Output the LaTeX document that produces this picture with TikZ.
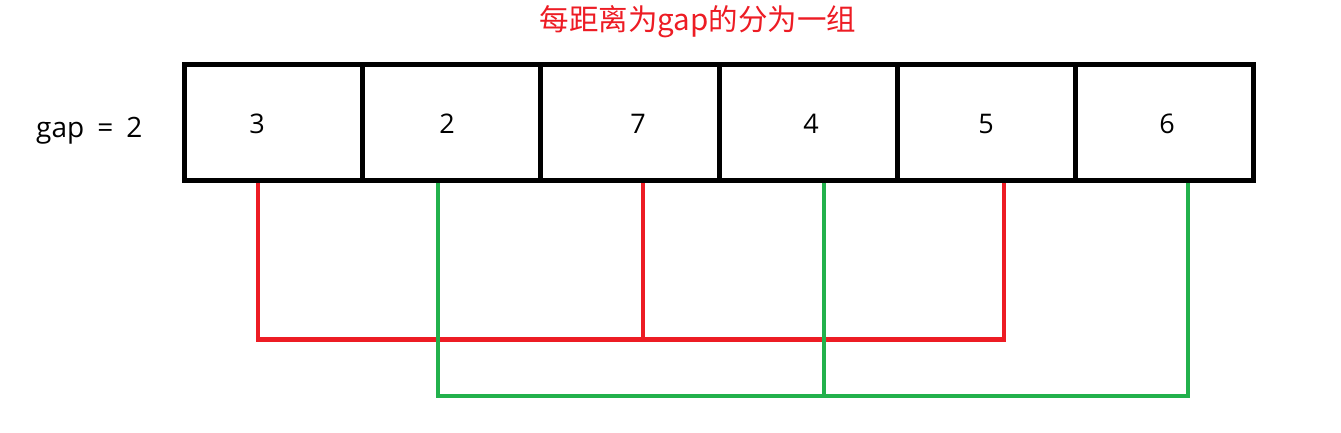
\documentclass[tikz,border=0pt]{standalone}
\usepackage{fontspec}
\setmainfont{Open Sans}
\newfontfamily\cjk{Noto Sans CJK SC}
\definecolor{pred}{HTML}{ED1C24}
\definecolor{pgreen}{HTML}{22B14C}
\begin{document}
\begin{tikzpicture}[x=1pt,y=-1pt,
  cell/.style={draw=black,line width=5pt,minimum width=178.17pt,minimum height=115.5pt,inner sep=0pt,outer sep=0pt},
  num/.style={font=\fontsize{27}{29}\selectfont,inner sep=0pt,anchor=base},
  redline/.style={draw=pred,line width=4.5pt,line join=miter},
  greenline/.style={draw=pgreen,line width=4.5pt,line join=miter}]
\useasboundingbox (0,0) rectangle (1341,432);
% title
\node[font=\cjk\fontsize{29.5}{31}\selectfont,text=pred,inner sep=0pt] (title) at (698,22) {每距离为gap的分为一组};
\node[font=\fontsize{28}{30}\selectfont,inner sep=0pt,anchor=base west] (gap) at (36,137) {gap\hspace{13pt}=\hspace{13pt}2};
% connector anchor points
\coordinate (r1) at (258,181);
\coordinate (r2) at (643,181);
\coordinate (r3) at (1004,181);
\coordinate (g1) at (438,181);
\coordinate (g2) at (824,181);
\coordinate (g3) at (1188,181);
\coordinate (rb) at (0,339.5);
\coordinate (gb) at (0,396);
% red group
\draw[redline] (r1) -- (r1 |- rb) -- (r3 |- rb) -- (r3);
\draw[redline] (r2) -- (r2 |- rb);
% green group
\draw[greenline] (g1) -- (g1 |- gb) -- (g3 |- gb) -- (g3);
\draw[greenline] (g2) -- (g2 |- gb);
% cells
\foreach \i in {0,...,5}{
  \node[cell] (c\i) at ({184.5+178.17*(\i+0.5)},122.25) {};
}
\node[num] (n0) at (257,133) {3};
\node[num] (n1) at (447,133) {2};
\node[num] (n2) at (638,133) {7};
\node[num] (n3) at (811,133) {4};
\node[num] (n4) at (986,133) {5};
\node[num] (n5) at (1167,133) {6};
\end{tikzpicture}
\end{document}
